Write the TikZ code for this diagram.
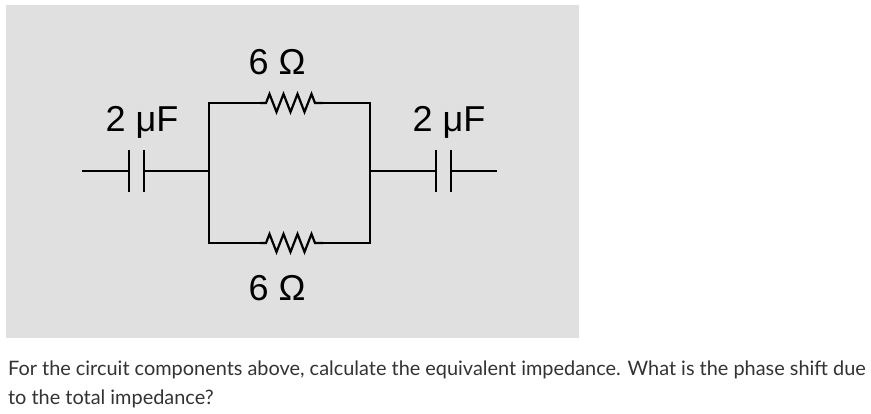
\documentclass[tikz,border=0pt]{standalone}
\usepackage{fontspec}
\setmainfont{Liberation Sans}
\newfontfamily\lato{Lato}
\begin{document}
\begin{tikzpicture}[x=1pt,y=-1pt,line width=2.2pt,
  lbl/.style={font=\fontsize{36}{40}\selectfont,inner sep=0pt},
  wire/.style={line cap=rect,line join=miter}]
\useasboundingbox (0,0) rectangle (871,414);
\fill[white] (0,0) rectangle (871,414);
\fill[black!12] (6,5) rectangle (579,338);
% coordinates
\coordinate (L) at (82,171);
\coordinate (R) at (497,171);
\coordinate (TL) at (209,103);
\coordinate (TR) at (370,103);
\coordinate (BL) at (209,243);
\coordinate (BR) at (370,243);
% left capacitor
\draw (L) -- (129,171);
\draw (129,150) -- (129,192);
\draw (144,150) -- (144,192);
\draw (144,171) -- (209,171);
% right capacitor
\draw (370,171) -- (436,171);
\draw (436,150) -- (436,192);
\draw (451,150) -- (451,192);
\draw (451,171) -- (R);
% rectangle with resistors
\draw[wire] (262,103) -- (TL) -- (BL) -- (262,243);
\draw[wire] (321,103) -- (TR) -- (BR) -- (321,243);
\foreach \yy in {103,243}{
\draw[line join=miter] (260,\yy) -- (266,\yy) -- (269.5,\yy-9) -- (276.5,\yy+9) -- (283.5,\yy-9) -- (290.5,\yy+9) -- (297.5,\yy-9) -- (304.5,\yy+9) -- (311.5,\yy-9) -- (315,\yy) -- (323,\yy);}
% labels
\node[lbl] (r1) at (277,62) {6 Ω};
\node[lbl] (r2) at (277,288) {6 Ω};
\node[lbl] (c1) at (142,122) {2 μF};
\node[lbl] (c2) at (449,122) {2 μF};
% question
\node[anchor=base west,inner sep=0pt,font=\lato\fontsize{19.9}{22}\selectfont,text=black!80] (q1) at (7,375) {For the circuit components above, calculate the equivalent impedance. What is the phase shift due};
\node[anchor=base west,inner sep=0pt,font=\lato\fontsize{19.9}{22}\selectfont,text=black!80] (q2) at (7,404) {to the total impedance?};
\end{tikzpicture}
\end{document}
